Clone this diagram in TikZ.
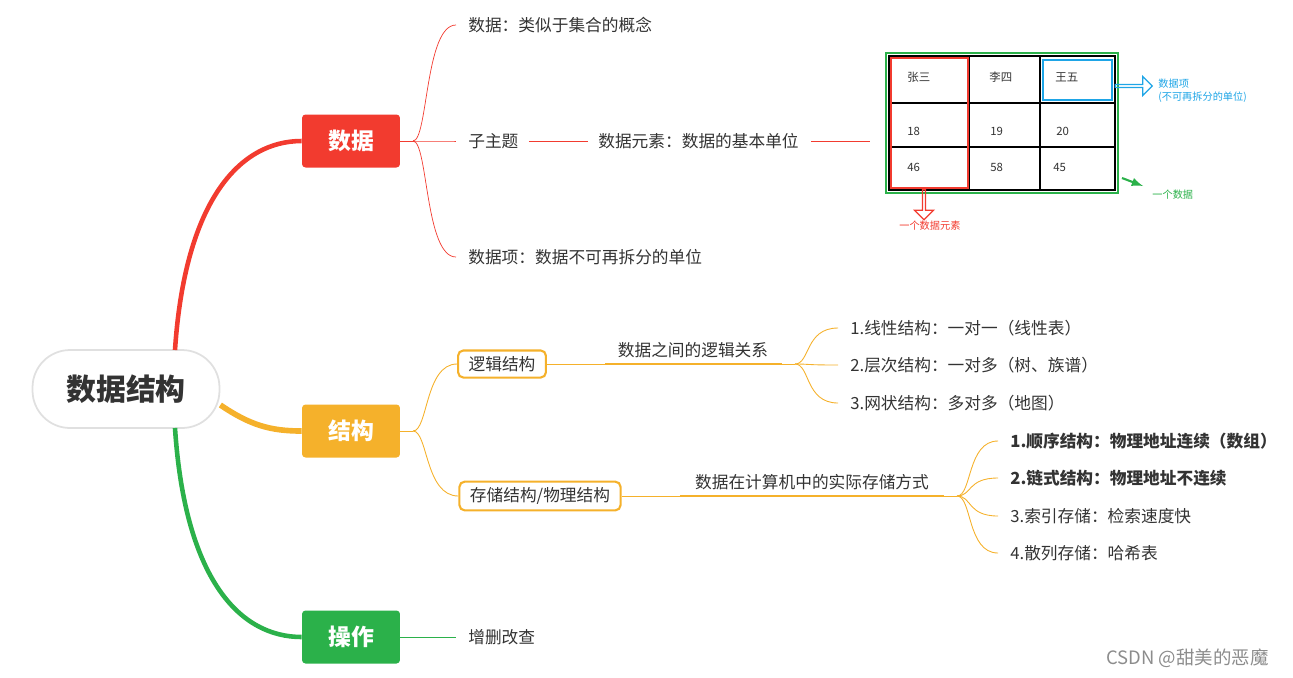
\documentclass[tikz,border=0pt]{standalone}
\usepackage{fontspec}
\setmainfont{Noto Sans CJK SC}
\usetikzlibrary{positioning}
\usetikzlibrary{calc}
\usetikzlibrary{shapes.arrows}
\definecolor{cred}{HTML}{F23B2F}
\definecolor{corange}{HTML}{F5B12B}
\definecolor{cgreen}{HTML}{2BB14A}
\definecolor{cblue}{HTML}{1EA5E6}
\definecolor{ctext}{HTML}{333333}
\begin{document}
\begin{tikzpicture}[x=0.02cm,y=-0.02cm,
	txt/.style={anchor=west,inner sep=0pt,text=ctext,font=\fontsize{9.5}{11}\selectfont},
	bnode/.style={rectangle,rounded corners=2pt,minimum width=1.96cm,minimum height=1.06cm,text=white,font=\fontsize{13}{15}\selectfont\bfseries},
	obox/.style={rectangle,rounded corners=3pt,draw=corange,line width=1.2pt,fill=white,text=ctext,font=\fontsize{9.5}{11}\selectfont,inner xsep=6pt},
	cell/.style={anchor=west,inner sep=0pt,text=ctext,font=\fontsize{6.5}{7}\selectfont},
	note/.style={anchor=west,inner sep=0pt,font=\fontsize{5.8}{7.5}\selectfont}]
	\useasboundingbox (0,0) rectangle (1293,677);
	% root and main branches
	\node[rectangle,rounded corners=0.75cm,draw=black!12,line width=1pt,fill=white,minimum width=3.74cm,minimum height=1.56cm,text=ctext,font=\fontsize{17}{20}\selectfont\bfseries] (root) at (126,389){数据结构};
	\node[bnode,fill=cred] (data) at (351,141){数据};
	\node[bnode,fill=corange] (struct) at (351,431){结构};
	\node[bnode,fill=cgreen] (oper) at (351,637){操作};
	\draw[cred,line width=2.6pt] (175,350) .. controls (185,200) and (240,141) .. (data.west);
	\draw[corange,line width=3.2pt] (root.east|-0,405) .. controls (250,425) and (270,431) .. (struct.west);
	\draw[cgreen,line width=2.6pt] (175,428) .. controls (185,580) and (240,637) .. (oper.west);
	% data
	\node[txt] (d1) at (468,25){数据：类似于集合的概念};
	\node[txt] (d2) at (468,141){子主题};
	\node[txt] (d3) at (468,257){数据项：数据不可再拆分的单位};
	\node[txt] (d4) at (598,141){数据元素：数据的基本单位};
	\coordinate (dj) at (413,141);
	\draw[cred,line width=0.4pt] (data.east) -- (dj);
	\foreach \n in {d1,d2,d3}
		\draw[cred,line width=0.4pt] (dj) .. controls (428,141) and (425,0|-\n.west) .. ($(\n.west)+(-12,0)$);
	\draw[cred,line width=0.4pt] ($(d2.east)+(10,0)$) -- ($(d4.west)+(-10,0)$);
	\coordinate (dt) at (870,141);
	\draw[cred,line width=0.4pt] ($(d4.east)+(12,0)$) -- (dt);
	% table
	\draw[cgreen,line width=0.8pt] (886,53) rectangle (1118,193);
	\draw[black,line width=0.9pt] (889,56) rectangle (1115,190);
	\foreach \x in {969,1040} \draw[black,line width=0.9pt] (\x,56) -- (\x,190);
	\foreach \y in {103,147} \draw[black,line width=0.9pt] (889,\y) -- (1115,\y);
	\draw[cred,line width=1pt] (891,58) rectangle (968,188);
	\draw[cblue,line width=1pt] (1043,60) rectangle (1112,100);
	\node[cell] (c11) at (907,77){张三};
	\node[cell] (c12) at (989,77){李四};
	\node[cell] (c13) at (1055,77){王五};
	\node[cell] (c21) at (907,131){18};
	\node[cell] (c22) at (990,131){19};
	\node[cell] (c23) at (1056,131){20};
	\node[cell] (c31) at (907,167){46};
	\node[cell] (c32) at (990,167){58};
	\node[cell] (c33) at (1053,167){45};
	\node[single arrow,draw=cblue,line width=0.7pt,minimum height=0.74cm,minimum width=0.38cm,single arrow head extend=2pt,inner sep=0pt] (barrow) at (1133,86){};
	\node[note,text=cblue,align=left] (bnote) at (1158,91){数据项\\(不可再拆分的单位)};
	\node[single arrow,draw=cred,line width=0.7pt,minimum height=0.6cm,minimum width=0.38cm,single arrow head extend=2pt,inner sep=0pt,shape border rotate=270] (rarrow) at (924,204){};
	\node[note,text=cred] (rnote) at (899,226){一个数据元素};
	\node[note,text=cgreen] (gnote) at (1152,195){一个数据};
	\coordinate (ga) at (1122,178);
	\draw[cgreen,line width=1.2pt,-latex] (ga) -- (1143,186);
	% structure
	\node[obox] (logic) at (502,364){逻辑结构};
	\node[obox] (store) at (540,496){存储结构/物理结构};
	\coordinate (sj) at (413,431);
	\draw[corange,line width=0.5pt] (struct.east) -- (sj);
	\foreach \n in {logic,store}
		\draw[corange,line width=0.5pt] (sj) .. controls (428,431) and (425,0|-\n.west) .. (\n.west);
	\node[txt,anchor=south] (lrel) at (693,358){数据之间的逻辑关系};
	\coordinate (la) at (605,364);
	\coordinate (lb) at (782,364);
	\coordinate (lj) at (795,364);
	\draw[corange,line width=0.5pt] (logic.east) -- (la);
	\draw[corange,line width=1.6pt] (la) -- (lb);
	\draw[corange,line width=0.5pt] (lb) -- (lj);
	\node[txt] (l1) at (850,328){1.线性结构：一对一（线性表）};
	\node[txt] (l2) at (850,365){2.层次结构：一对多（树、族谱）};
	\node[txt] (l3) at (850,403){3.网状结构：多对多（地图）};
	\foreach \n in {l1,l2,l3}
		\draw[corange,line width=0.5pt] (lj) .. controls (810,364) and (805,0|-\n.west) .. ($(\n.west)+(-12,0)$);
	\node[txt,anchor=south] (srel) at (812,490){数据在计算机中的实际存储方式};
	\coordinate (sa) at (680,496);
	\coordinate (sb) at (944,496);
	\coordinate (sk) at (957,496);
	\draw[corange,line width=0.5pt] (store.east) -- (sa);
	\draw[corange,line width=1.6pt] (sa) -- (sb);
	\draw[corange,line width=0.5pt] (sb) -- (sk);
	\node[txt,font=\fontsize{9.5}{11}\selectfont\bfseries] (s1) at (1010,441){1.顺序结构：物理地址连续（数组）};
	\node[txt,font=\fontsize{9.5}{11}\selectfont\bfseries] (s2) at (1010,478){2.链式结构：物理地址不连续};
	\node[txt] (s3) at (1010,516){3.索引存储：检索速度快};
	\node[txt] (s4) at (1010,553){4.散列存储：哈希表};
	\foreach \n in {s1,s2,s3,s4}
		\draw[corange,line width=0.5pt] (sk) .. controls (972,496) and (967,0|-\n.west) .. ($(\n.west)+(-12,0)$);
	% operation
	\node[txt] (o1) at (468,637){增删改查};
	\draw[cgreen,line width=0.5pt] (oper.east) -- ($(o1.west)+(-12,0)$);
	\node[anchor=west,inner sep=0pt,text=black!45,font=\fontsize{10.5}{12}\selectfont] (mark) at (1106,658){CSDN @甜美的恶魔};
\end{tikzpicture}
\end{document}
